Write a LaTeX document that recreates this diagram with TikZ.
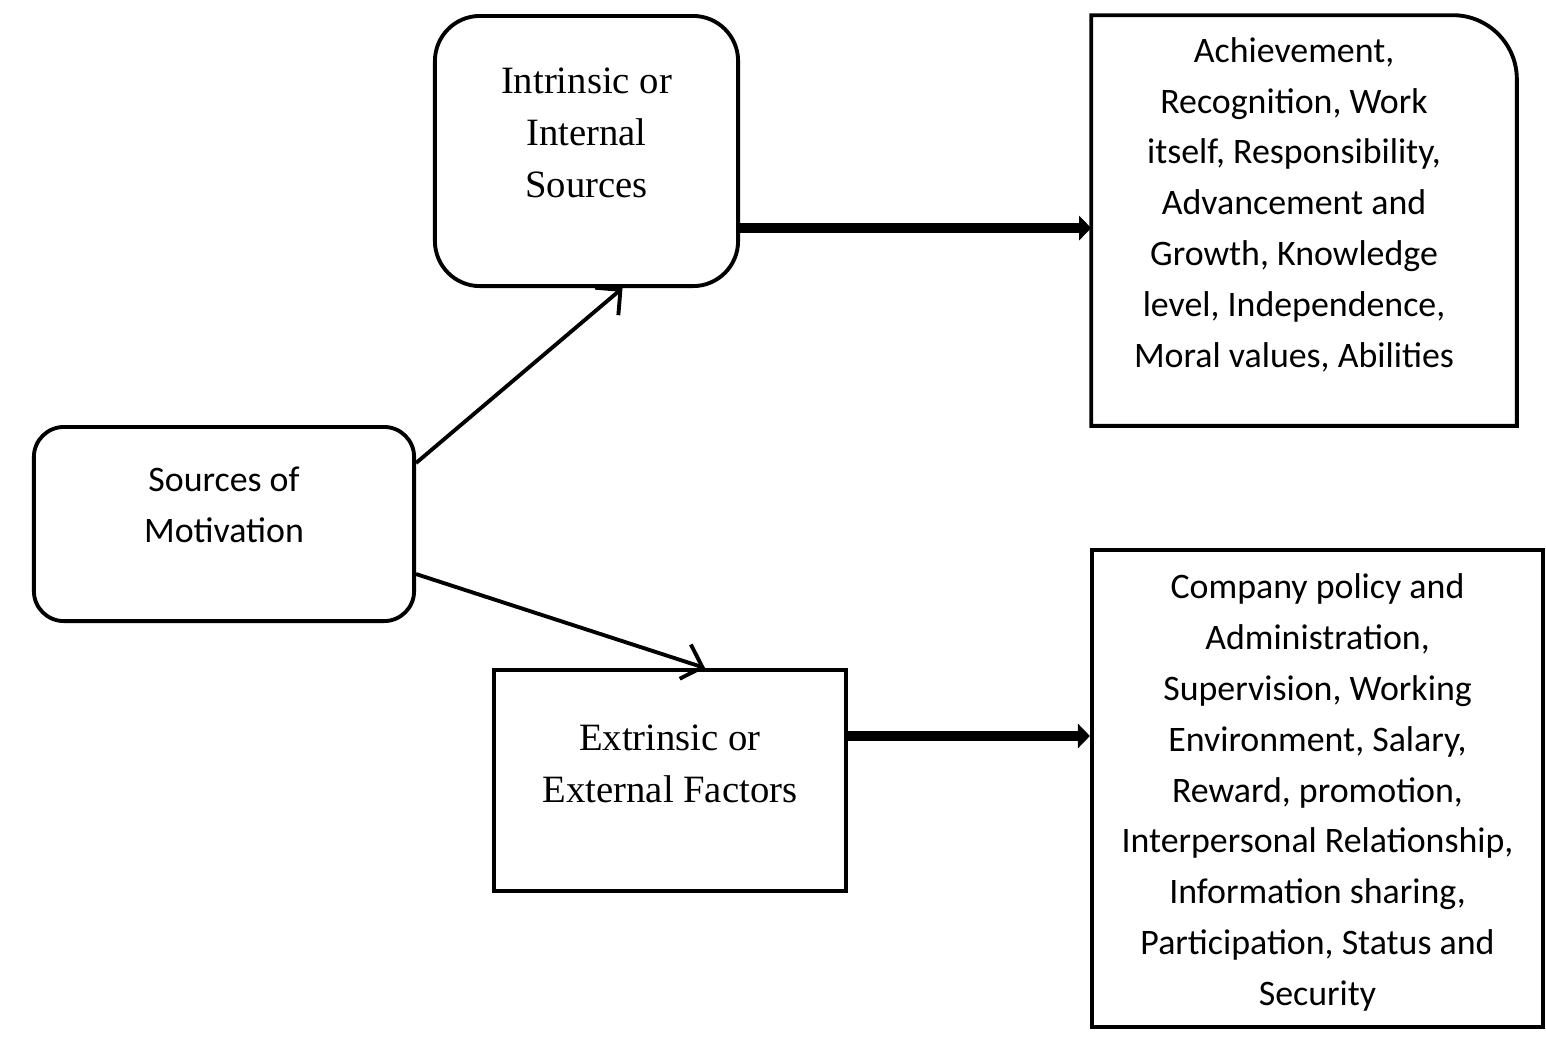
\documentclass[tikz,border=0pt]{standalone}
\usepackage{fontspec}
\setmainfont{Carlito}
\newfontfamily\wordserif{Liberation Serif}
\usetikzlibrary{arrows.meta, positioning}

\begin{document}
\begin{tikzpicture}[
			x=0.01cm, y=-0.01cm,
			box/.style={
				rectangle, draw, line width=1.1pt, inner sep=0pt
			},
			sanstext/.style={
				align=center, font=\fontsize{10.2}{14.45}\selectfont
			},
			seriftext/.style={
				align=center, font=\wordserif\fontsize{11}{14.8}\selectfont
			},
			arrow/.style={
				-{Straight Barb[length=1.8mm,width=3.6mm]},
				line width=1.1pt
			},
			fatarrow/.style={
				-{Triangle[length=1.2mm,width=2.4mm]},
				line width=2.8pt
			}
			]
			\useasboundingbox (0,0) rectangle (1546,1038);
			
			% boxes
			\node[box, rounded corners=0.3cm, minimum width=3.8cm, minimum height=1.94cm] (src) at (224,524) {};
			\node[box, rounded corners=0.45cm, minimum width=3.03cm, minimum height=2.7cm] (intr) at (586.5,151) {};
			\node[box, minimum width=3.52cm, minimum height=2.21cm] (extr) at (670,780.5) {};
			\node[minimum width=4.24cm, minimum height=4.09cm, inner sep=0pt] (achv) at (1304,220.5) {};
			\node[box, minimum width=4.51cm, minimum height=4.77cm] (comp) at (1317.5,788.5) {};
			\draw[line width=1.1pt] (achv.south west) -- (achv.north west) -- ([xshift=-0.64cm]achv.north east)
				arc[start angle=90, end angle=0, radius=0.64cm] -- (achv.south east) -- cycle;
			
			% texts
			\node[sanstext] (srctxt) at ([yshift=0.19cm]src.center) {Sources of\\Motivation};
			\node[seriftext] (intrtxt) at ([yshift=0.18cm]intr.center) {Intrinsic or\\Internal\\Sources};
			\node[seriftext] (extrtxt) at ([yshift=0.17cm]extr.center) {Extrinsic or\\External Factors};
			\node[sanstext] (achvtxt) at ([xshift=-0.1cm, yshift=0.16cm]achv.center) {Achievement,\\Recognition, Work\\itself, Responsibility,\\Advancement and\\Growth, Knowledge\\level, Independence,\\Moral values, Abilities};
			\node[sanstext] (comptxt) at ([yshift=-0.04cm]comp.center) {Company policy and\\Administration,\\Supervision, Working\\Environment, Salary,\\Reward, promotion,\\Interpersonal Relationship,\\Information sharing,\\Participation, Status and\\Security};
			
			% connectors
			\coordinate (up) at ([yshift=-0.77cm]intr.east);
			\coordinate (down) at ([yshift=0.445cm]extr.east);
			\draw[arrow] ([yshift=0.61cm]src.east) -- ([xshift=0.36cm]intr.south);
			\draw[arrow] ([yshift=-0.5cm]src.east) -- ([xshift=0.35cm]extr.north);
			\draw[fatarrow] (up) -- (up -| achv.west);
			\draw[fatarrow] (down) -- (down -| comp.west);
		\end{tikzpicture}
\end{document}
